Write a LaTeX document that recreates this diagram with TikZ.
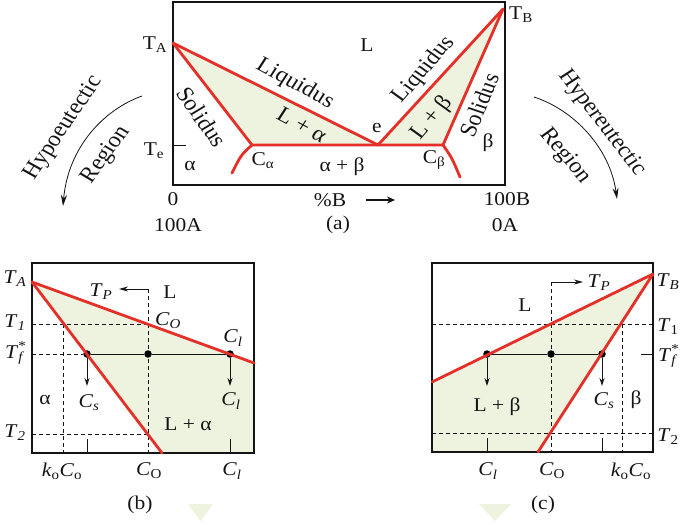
\documentclass[tikz,border=0pt]{standalone}
\usepackage{fontspec}
\setmainfont{Liberation Serif}
\usetikzlibrary{arrows.meta}
\definecolor{redline}{RGB}{228,48,40}
\definecolor{pale}{RGB}{237,243,222}
\definecolor{ink}{RGB}{20,20,20}
\newcommand{\sbs}[1]{\textsubscript{#1}}
\newcommand{\Tfstar}{\textit{T}\rlap{\textsuperscript{*}}\textsubscript{\textit{f}}}
\begin{document}
\begin{tikzpicture}[x=1pt,y=-1pt,
  txt/.style={font=\fontsize{19.5}{22}\selectfont, text=ink, inner sep=0pt, xscale=1.1},
  rtxt/.style={font=\fontsize{22}{25}\selectfont, text=ink, inner sep=0pt, xscale=1.1},
  frame/.style={draw=ink, line width=1.1pt},
  phase/.style={draw=redline, line width=2.8pt, line join=round, line cap=round},
  dsh/.style={draw=ink, line width=0.8pt, dash pattern=on 4pt off 3pt},
  thin/.style={draw=ink, line width=0.9pt},
  dnarrow/.style={draw=ink, line width=0.9pt, -{Stealth[length=8pt,width=5pt]}},
  dotm/.style={circle, fill=black, inner sep=0pt, minimum size=7.5pt},
  tri/.style={fill=pale, draw=none}]
\useasboundingbox (0,0) rectangle (685,527);

% ===================== (a) =====================
\coordinate (TA) at (173,43);
\coordinate (TB) at (503,9);
\coordinate (E) at (378,145);
\coordinate (Ca) at (252,145);
\coordinate (Cb) at (443,145);
\coordinate (Sa) at (232,173);
\coordinate (Sb) at (460,177);
\coordinate (TeL) at (173,145);
\coordinate (TeR) at (186,145);
\fill[pale] (TA)--(E)--(Ca)--cycle;
\fill[pale] (E)--(TB)--(Cb)--cycle;
\draw[frame] (173,2) rectangle (505,185);
\draw[thin] (TeL)--(TeR);
\draw[phase] (TA)--(E)--(TB);
\draw[phase] (TA)--(Ca)--(Cb)--(TB);
\draw[phase] (Ca) .. controls (241,155) .. (Sa);
\draw[phase] (Cb) .. controls (452,158) .. (Sb);

\node[txt] (labTA) at (155,45) {T\sbs{A}};
\node[txt] (labTB) at (521,15) {T\sbs{B}};
\node[txt] (labTe) at (154,151) {T\sbs{e}};
\node[txt] (labL) at (367,45) {L};
\node[rtxt, rotate=-30.5] (liqL) at (295,84) {Liquidus};
\node[rtxt, rotate=-30.5] (LaA) at (302,125) {L + α};
\node[rtxt, rotate=-56.5] (solL) at (202,117) {Solidus};
\node[rtxt, rotate=51.7] (liqR) at (424,70) {Liquidus};
\node[rtxt, rotate=51.7] (LbA) at (432,118) {L + β};
\node[rtxt, rotate=69.3] (solR) at (479,105) {Solidus};
\node[txt] (labe) at (377,128) {e};
\node[txt] (labb) at (488,143) {β};
\node[txt] (laba) at (190,166) {α};
\node[txt] (labCa) at (263,161) {C\sbs{α}};
\node[txt] (labab) at (342,167) {α + β};
\node[txt] (labCb) at (434,160) {C\sbs{β}};
\node[txt] (lab0) at (173,199) {0};
\node[txt] (labpB) at (330,200) {\%B};
\coordinate (arrS) at (366,200);
\coordinate (arrE) at (395,200);
\draw[draw=ink, line width=1.6pt, -{Stealth[length=8pt,width=7pt]}] (arrS)--(arrE);
\node[txt] (lab100B) at (507,199) {100B};
\node[txt] (lab100A) at (178,225) {100A};
\node[txt] (laba2) at (338,225) {(a)};
\node[txt] (lab0A) at (505,225) {0A};

% region arrows
\coordinate (hoS) at (142,96);
\coordinate (hoE) at (63,206);
\draw[draw=ink, line width=0.8pt, -{Stealth[length=11pt,width=6pt]}] (hoS) .. controls (103,110) and (68,148) .. (hoE);
\node[rtxt, rotate=58.4] (hypo) at (64,128) {Hypoeutectic};
\node[rtxt, rotate=56.5] (regL) at (106,155) {Region};
\coordinate (heS) at (534,97);
\coordinate (heE) at (617,199);
\draw[draw=ink, line width=0.8pt, -{Stealth[length=11pt,width=6pt]}] (heS) .. controls (574,110) and (610,148) .. (heE);
\node[rtxt, rotate=-54.6] (hyper) at (602,123) {Hypereutectic};
\node[rtxt, rotate=-51.7] (regR) at (565,156) {Region};

% ===================== (b) =====================
\coordinate (bTA) at (32,282);
\coordinate (bLe) at (254,363);
\coordinate (bSe) at (162,453);
\fill[pale] (bTA)--(bLe)--(254,453)--(bSe)--cycle;
\draw[frame] (32,263) rectangle (254,453);
\coordinate (bT1a) at (32,324);
\coordinate (bT1b) at (148,324);
\coordinate (bK1) at (63,324);
\coordinate (bK2) at (63,453);
\coordinate (bCtop) at (148,289);
\coordinate (bCbot) at (148,453);
\coordinate (bTfa) at (32,354);
\coordinate (bT2a) at (32,434);
\coordinate (bT2b) at (148,434);
\coordinate (bTP) at (119,289);
\draw[dsh] (bT1a)--(bT1b);
\draw[dsh] (bK1)--(bK2);
\draw[dsh] (bCtop)--(bCbot);
\draw[dsh] (bT2a)--(bT2b);
\node[dotm] (bDs) at (87,354) {};
\node[dotm] (bDm) at (148,354) {};
\node[dotm] (bDl) at (230,354) {};
\draw[dsh] (bTfa)--(bDs);
\draw[thin] (bDs)--(bDm)--(bDl);
\draw[phase] (bTA)--(bLe);
\draw[phase] (bTA)--(bSe);
\draw[thin, -{Stealth[length=9pt,width=5pt]}] (bCtop)--(bTP);
\coordinate (bAs) at (87,386);
\coordinate (bAl) at (230,386);
\draw[dnarrow] (bDs)--(bAs);
\draw[dnarrow] (bDl)--(bAl);
\draw[thin] (87,439)--(87,453);
\draw[thin] (230,439)--(230,453);
\node[txt] (bLTA) at (15,279) {\textit{T}\sbs{\textit{A}}};
\node[txt] (bLT1) at (15,323) {\textit{T}\sbs{\textit{1}}};
\node[txt] (bLTf) at (15,353) {\Tfstar};
\node[txt] (bLT2) at (15,433) {\textit{T}\sbs{\textit{2}}};
\node[txt] (bTPl) at (101,292) {\textit{T}\sbs{\textit{P}}};
\node[txt] (bL) at (170,292) {L};
\node[txt] (bCO) at (168,321) {\textit{C}\sbs{\textit{O}}};
\node[txt] (bCl1) at (233,338) {\textit{C}\sbs{\textit{l}}};
\node[txt] (ba) at (45,400) {α};
\node[txt] (bCs) at (89,403) {\textit{C}\sbs{\textit{s}}};
\node[txt] (bCl2) at (231,401) {\textit{C}\sbs{\textit{l}}};
\node[txt] (bLa) at (188,424) {L + α};
\node[txt] (bk) at (62,471) {\textit{k}\sbs{o}\textit{C}\sbs{o}};
\node[txt] (bCOb) at (149,471) {\textit{C}\sbs{O}};
\node[txt] (bClb) at (232,471) {\textit{C}\sbs{\textit{l}}};
\node[txt] (bcap) at (140,505) {(b)};
\fill[tri] (188,504)--(213,504)--(200.5,521)--cycle;

% ===================== (c) =====================
\coordinate (cTB) at (653,274);
\coordinate (cLe) at (432,382);
\coordinate (cSe) at (538,452);
\fill[pale] (cTB)--(cLe)--(432,452)--(cSe)--cycle;
\draw[frame] (432,263) rectangle (653,452);
\coordinate (cT1a) at (432,324);
\coordinate (cT1b) at (653,324);
\coordinate (cT2a) at (432,433);
\coordinate (cT2b) at (653,433);
\coordinate (cCtop) at (551,282);
\coordinate (cCbot) at (551,452);
\coordinate (cK1) at (622,324);
\coordinate (cK2) at (622,452);
\coordinate (cTP) at (583,282);
\draw[dsh] (cT1a)--(cT1b);
\draw[dsh] (cT2a)--(cT2b);
\draw[dsh] (cCtop)--(cCbot);
\draw[dsh] (cK1)--(cK2);
\node[dotm] (cDl) at (487,354) {};
\node[dotm] (cDm) at (551,354) {};
\node[dotm] (cDs) at (602,354) {};
\draw[thin] (cDl)--(cDm)--(cDs);
\draw[thin] (641,354)--(653,354);
\draw[phase] (cTB)--(cLe);
\draw[phase] (cTB)--(cSe);
\draw[thin, -{Stealth[length=9pt,width=5pt]}] (cCtop)--(cTP);
\coordinate (cAl) at (487,386);
\coordinate (cAs) at (602,386);
\draw[dnarrow] (cDl)--(cAl);
\draw[dnarrow] (cDs)--(cAs);
\draw[thin] (487,438)--(487,452);
\draw[thin] (602,438)--(602,452);
\node[txt] (cLTB) at (668,282) {\textit{T}\sbs{\textit{B}}};
\node[txt] (cLT1) at (668,327) {\textit{T}\sbs{1}};
\node[txt] (cLTf) at (668,356) {\Tfstar};
\node[txt] (cLT2) at (668,437) {\textit{T}\sbs{2}};
\node[txt] (cTPl) at (599,283) {\textit{T}\sbs{\textit{P}}};
\node[txt] (cL) at (525,305) {L};
\node[txt] (cLb) at (497,407) {L + β};
\node[txt] (cCs) at (604,401) {\textit{C}\sbs{\textit{s}}};
\node[txt] (cb) at (636,400) {β};
\node[txt] (cClb) at (488,471) {\textit{C}\sbs{\textit{l}}};
\node[txt] (cCOb) at (552,471) {\textit{C}\sbs{O}};
\node[txt] (ck) at (631,471) {\textit{k}\sbs{o}\textit{C}\sbs{o}};
\node[txt] (ccap) at (543,505) {(c)};
\fill[tri] (479,504)--(511,504)--(495,521)--cycle;
\end{tikzpicture}
\end{document}
